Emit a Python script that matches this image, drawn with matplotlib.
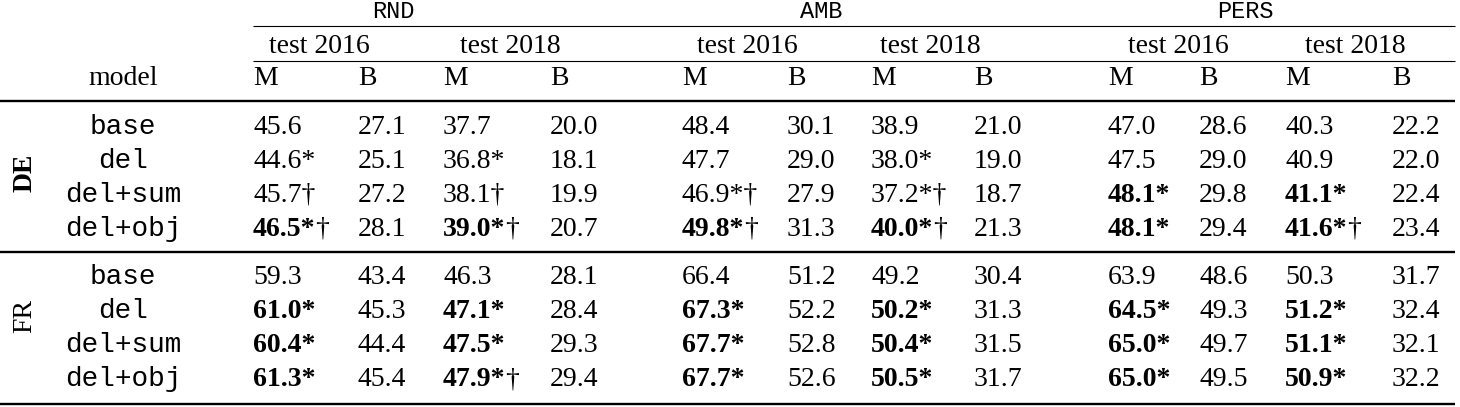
import matplotlib
matplotlib.use("Agg")
import matplotlib.pyplot as plt

# header labels
groups = ["RND", "AMB", "PERS"]
test_sets = ["test 2016", "test 2018"]
metrics = ["M", "B"]
models = ["base", "del", "del+sum", "del+obj"]
languages = ["DE", "FR"]

# cell text per row (12 columns: RND / AMB / PERS x test2016/2018 x M/B)
de_cells = [
    ["45.6", "27.1", "37.7", "20.0", "48.4", "30.1", "38.9", "21.0", "47.0", "28.6", "40.3", "22.2"],
    ["44.6*", "25.1", "36.8*", "18.1", "47.7", "29.0", "38.0*", "19.0", "47.5", "29.0", "40.9", "22.0"],
    ["45.7†", "27.2", "38.1†", "19.9", "46.9*†", "27.9", "37.2*†", "18.7", "48.1*", "29.8", "41.1*", "22.4"],
    ["46.5*†", "28.1", "39.0*†", "20.7", "49.8*†", "31.3", "40.0*†", "21.3", "48.1*", "29.4", "41.6*†", "23.4"],
]
de_bold = [
    [0, 0, 0, 0, 0, 0, 0, 0, 0, 0, 0, 0],
    [0, 0, 0, 0, 0, 0, 0, 0, 0, 0, 0, 0],
    [0, 0, 0, 0, 0, 0, 0, 0, 1, 0, 1, 0],
    [1, 0, 1, 0, 1, 0, 1, 0, 1, 0, 1, 0],
]
fr_cells = [
    ["59.3", "43.4", "46.3", "28.1", "66.4", "51.2", "49.2", "30.4", "63.9", "48.6", "50.3", "31.7"],
    ["61.0*", "45.3", "47.1*", "28.4", "67.3*", "52.2", "50.2*", "31.3", "64.5*", "49.3", "51.2*", "32.4"],
    ["60.4*", "44.4", "47.5*", "29.3", "67.7*", "52.8", "50.4*", "31.5", "65.0*", "49.7", "51.1*", "32.1"],
    ["61.3*", "45.4", "47.9*†", "29.4", "67.7*", "52.6", "50.5*", "31.7", "65.0*", "49.5", "50.9*", "32.2"],
]
fr_bold = [
    [0, 0, 0, 0, 0, 0, 0, 0, 0, 0, 0, 0],
    [1, 0, 1, 0, 1, 0, 1, 0, 1, 0, 1, 0],
    [1, 0, 1, 0, 1, 0, 1, 0, 1, 0, 1, 0],
    [1, 0, 1, 0, 1, 0, 1, 0, 1, 0, 1, 0],
]

SERIF = "Liberation Serif"
MONO = "Liberation Mono"
FS = 20

# layout (pixel coordinates, y downwards)
col_x = [253, 358, 443, 550, 682, 787, 871, 974, 1108, 1199, 1285, 1392]
group_cx = [393, 821, 1245]
test_cx = [319, 510, 747, 930, 1178, 1355]
model_cx = 123
lang_cx = 25
lang_cy = [173, 316]
row_base = [[133.5, 167.5, 201.5, 235.5], [284.5, 318.5, 352.5, 386.5]]

fig = plt.figure(figsize=(14.6, 4.07), dpi=100)
ax = fig.add_axes([0, 0, 1, 1])
ax.set_xlim(0, 1460)
ax.set_ylim(407, 0)
ax.axis("off")

# header
for g, cx in zip(groups, group_cx):
    ax.text(cx, 18, g, family=MONO, fontsize=17, ha="center", va="baseline")
for i, cx in enumerate(test_cx):
    ax.text(cx, 53, test_sets[i % 2], family=SERIF, fontsize=FS, ha="center", va="baseline")
for i, x in enumerate(col_x):
    ax.text(x, 85, metrics[i % 2], family=SERIF, fontsize=FS, ha="left", va="baseline")
ax.text(model_cx, 85, "model", family=SERIF, fontsize=FS, ha="center", va="baseline")

# rules
ax.hlines([26, 61], 253, 1455, color="black", lw=0.8)
ax.hlines([100.5, 251.5, 403.5], 0, 1455, color="black", lw=1.7)


def draw_cell(x, y, s, bold):
    if not bold:
        ax.text(x, y, s, family=SERIF, fontsize=FS, ha="left", va="baseline")
        return
    main, tail = s, ""
    if s.endswith("†"):
        main, tail = s[:-1], "†"
    t = ax.text(x, y, main, family=SERIF, fontsize=FS, fontweight="bold",
                ha="left", va="baseline")
    if tail:
        ax.annotate(tail, xy=(1, 0), xycoords=t, family=SERIF, fontsize=FS,
                    ha="left", va="bottom")


blocks = [(de_cells, de_bold), (fr_cells, fr_bold)]
for li, (cells, bold) in enumerate(blocks):
    ax.text(lang_cx, lang_cy[li], languages[li], family=SERIF, fontsize=FS,
            fontweight="bold" if li == 0 else "normal",
            rotation=90, ha="center", va="center")
    for ri, model in enumerate(models):
        y = row_base[li][ri]
        ax.text(model_cx, y, model, family=MONO, fontsize=FS, ha="center", va="baseline")
        for ci, x in enumerate(col_x):
            draw_cell(x, y, cells[ri][ci], bold[ri][ci])

fig.savefig("out.png", dpi=100)
